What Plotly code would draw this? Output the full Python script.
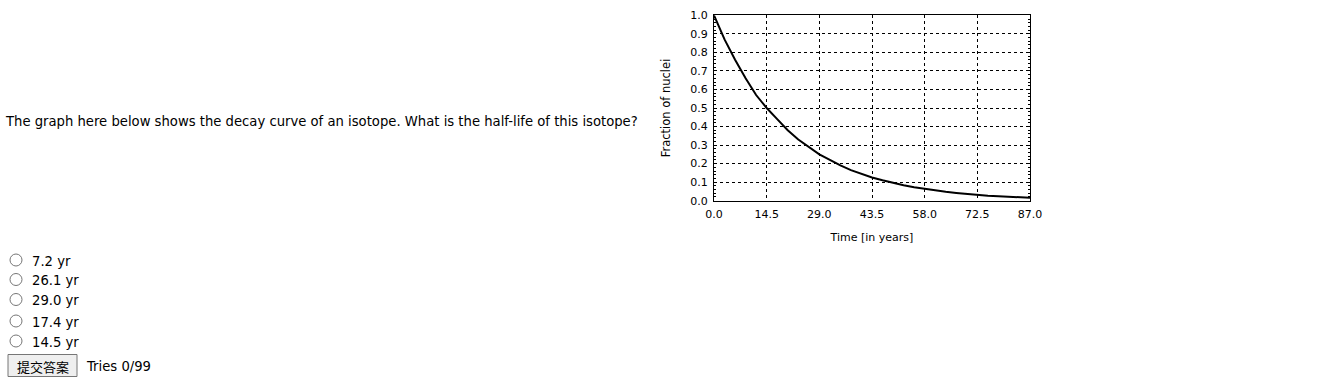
import plotly.graph_objects as go

# Data
time_years = [0, 2.9, 5.8, 8.7, 11.6, 14.5, 17.4, 20.3, 23.2, 26.1, 29.0, 31.9, 34.8,
              37.7, 40.6, 43.5, 46.4, 49.3, 52.2, 55.1, 58.0, 60.9, 63.8, 66.7, 69.6,
              72.5, 75.4, 78.3, 81.2, 84.1, 87.0]
fraction = [1.00, 0.87, 0.76, 0.66, 0.57, 0.50, 0.44, 0.38, 0.33, 0.29, 0.25, 0.22, 0.19,
            0.165, 0.145, 0.125, 0.11, 0.095, 0.083, 0.072, 0.063, 0.055, 0.048, 0.042, 0.036,
            0.031, 0.027, 0.024, 0.021, 0.018, 0.016]
x_ticks = [0.0, 14.5, 29.0, 43.5, 58.0, 72.5, 87.0]
y_ticks = [0.0, 0.1, 0.2, 0.3, 0.4, 0.5, 0.6, 0.7, 0.8, 0.9, 1.0]

question = "The graph here below shows the decay curve of an isotope. What is the half-life of this isotope?"
choices = ["7.2 yr", "26.1 yr", "29.0 yr", "17.4 yr", "14.5 yr"]
button_label = "提交答案"
tries_label = "Tries 0/99"

W, H = 1335, 380
FONT = "DejaVu Sans"
TXT = 13.2


def px(x):
    return x / W


def py(y):
    return 1 - y / H


fig = go.Figure()
fig.add_trace(go.Scatter(x=time_years, y=fraction, mode="lines",
                         line=dict(color="black", width=2), showlegend=False,
                         hoverinfo="skip"))

fig.update_layout(
    width=W, height=H,
    margin=dict(l=0, r=0, t=0, b=0, pad=0, autoexpand=False),
    paper_bgcolor="white", plot_bgcolor="white",
    font=dict(family=FONT, size=11, color="black"),
    xaxis=dict(domain=[px(714), px(1030)], range=[0, 87],
               tickvals=x_ticks, ticktext=[f"{v:.1f}" for v in x_ticks],
               showgrid=True, gridcolor="black", griddash="dot", gridwidth=1,
               showline=True, linecolor="black", linewidth=1, mirror=True,
               zeroline=False, ticks="", tickfont=dict(size=11, family=FONT),
               ticklabelstandoff=3, automargin=False,
               title=dict(text="Time [in years]", font=dict(size=11, family=FONT), standoff=13)),
    yaxis=dict(domain=[py(200.7), py(15.3)], range=[0, 1],
               tickvals=y_ticks, ticktext=[f"{v:.1f}" for v in y_ticks],
               showgrid=True, gridcolor="black", griddash="dot", gridwidth=1,
               showline=True, linecolor="black", linewidth=1, mirror="allticks",
               zeroline=False, ticks="inside", ticklen=3, tickcolor="black",
               minor=dict(dtick=0.02, ticks="inside", ticklen=2, tickcolor="black", showgrid=False),
               tickfont=dict(size=11, family=FONT), ticklabelstandoff=3, automargin=False,
               title=dict(text="Fraction of nuclei", font=dict(size=11.5, family=FONT), standoff=17)),
)

annotations = []
shapes = []

annotations.append(dict(x=px(3), y=py(121), xref="paper", yref="paper", text=question,
                        showarrow=False, xanchor="left", yanchor="middle",
                        font=dict(family=FONT, size=TXT, color="black")))

choice_y = [260, 279.5, 299.5, 321, 341]
for label, cy in zip(choices, choice_y):
    shapes.append(dict(type="circle", xref="paper", yref="paper",
                       x0=px(10), x1=px(22), y0=py(cy + 6), y1=py(cy - 6),
                       line=dict(color="#767676", width=1), fillcolor="white"))
    annotations.append(dict(x=px(29.5), y=py(cy + 1), xref="paper", yref="paper", text=label,
                            showarrow=False, xanchor="left", yanchor="middle",
                            font=dict(family=FONT, size=TXT, color="black")))

shapes.append(dict(type="rect", xref="paper", yref="paper",
                   x0=px(8), x1=px(77), y0=py(376.5), y1=py(354.5),
                   line=dict(color="#767676", width=1), fillcolor="#efefef"))
annotations.append(dict(x=px(42.5), y=py(366), xref="paper", yref="paper", text=button_label,
                        showarrow=False, xanchor="center", yanchor="middle",
                        font=dict(family="Noto Sans CJK SC", size=13, color="black")))
annotations.append(dict(x=px(84), y=py(366), xref="paper", yref="paper", text=tries_label,
                        showarrow=False, xanchor="left", yanchor="middle",
                        font=dict(family=FONT, size=TXT, color="black")))

fig.update_layout(annotations=annotations, shapes=shapes)
fig.write_html("out.html")
